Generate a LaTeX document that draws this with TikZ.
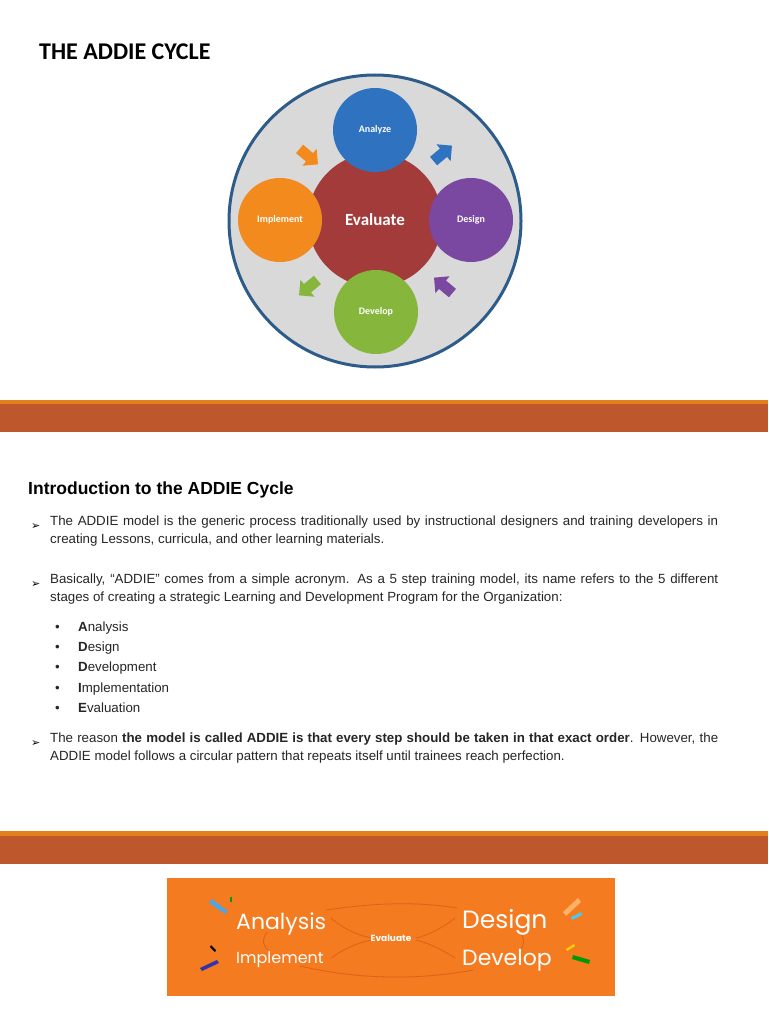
\documentclass[tikz,border=0pt]{standalone}
\usepackage{fontspec}
\setmainfont{Liberation Sans}
\newfontfamily\calib{Carlito}
\newfontfamily\popp{Poppins}
\newfontfamily\dejav{DejaVu Sans}
\definecolor{rust}{HTML}{BE582C}
\definecolor{bandor}{HTML}{E3801E}
\definecolor{banor}{HTML}{F47B20}
\definecolor{curv}{HTML}{E0601A}
\definecolor{ringc}{HTML}{2E5C8A}
\definecolor{evred}{HTML}{A33B3A}
\definecolor{anblue}{HTML}{2F72C0}
\definecolor{depurp}{HTML}{7A48A0}
\definecolor{dvgreen}{HTML}{86B63C}
\definecolor{imor}{HTML}{F28A1E}
\tikzset{
 phase/.style={circle,minimum size=84pt,inner sep=0pt,text=white,font=\calib\bfseries\fontsize{10}{12}\selectfont},
 para/.style={anchor=north west,text width=668pt,align=justify,inner sep=0pt,font=\fontsize{13.3}{18}\selectfont,text=black!85},
 arrowmark/.style={anchor=base west,inner sep=0pt,font=\dejav\fontsize{11}{13}\selectfont},
 bl/.style={anchor=base west,inner sep=0pt,font=\fontsize{13.3}{18}\selectfont,text=black!85},
 bantext/.style={anchor=base west,inner sep=0pt,text=white,font=\popp},
 blockarrow/.pic={\fill[#1] (-11,-5.5)--(2,-5.5)--(2,-11)--(13,0)--(2,11)--(2,5.5)--(-11,5.5)--cycle;}
}
\begin{document}
\begin{tikzpicture}[x=1pt,y=-1pt]
\useasboundingbox[fill=white] (0,0) rectangle (768,1024);
\node[anchor=base west,inner sep=0pt,font=\calib\bfseries\fontsize{24}{28}\selectfont] (title) at (39,60) {THE ADDIE CYCLE};
% cycle diagram
\node[circle,minimum size=292pt,inner sep=0pt,fill=black!15,draw=ringc,line width=3pt] (ring) at (375,221) {};
\node[circle,minimum size=134pt,inner sep=0pt,fill=evred] (eval) at (375,220) {};
\node[text=white,font=\calib\bfseries\fontsize{17}{20}\selectfont] (evtxt) at (eval) {Evaluate};
\node[phase,fill=anblue] (an) at (375,130) {Analyze};
\node[phase,fill=depurp] (de) at (471,220) {Design};
\node[phase,fill=dvgreen] (dv) at (376,312) {Develop};
\node[phase,fill=imor] (im) at (280,220) {Implement};
\pic[rotate=-40] at (308,156) {blockarrow=imor};
\pic[rotate=40] at (442,154) {blockarrow=anblue};
\pic[rotate=140] at (444,286) {blockarrow=depurp};
\pic[rotate=-140] at (309,287) {blockarrow=dvgreen};
% bands
\fill[bandor] (0,400) rectangle (768,404);
\fill[rust] (0,404) rectangle (768,432);
\fill[bandor] (0,831) rectangle (768,836);
\fill[rust] (0,836) rectangle (768,864);
% text
\node[anchor=base west,inner sep=0pt,font=\bfseries\fontsize{17.5}{20}\selectfont] (intro) at (28,494) {Introduction to the ADDIE Cycle};
\node[arrowmark] (m1) at (31,529) {➢};
\node[para] (p1) at (50,516) {The ADDIE model is the generic process traditionally used by instructional designers and training developers in creating Lessons, curricula, and other learning materials.};
\node[arrowmark] (m2) at (31,587) {➢};
\node[para] (p2) at (50,574) {Basically, “ADDIE” comes from a simple acronym. As a 5 step training model, its name refers to the 5 different stages of creating a strategic Learning and Development Program for the Organization:};
\foreach \t/\r [count=\i] in {A/nalysis,D/esign,D/evelopment,I/mplementation,E/valuation}{
  \node[bl] (b\i) at (55,{611+20.3*\i}) {\textbullet};
  \node[bl] (w\i) at (78,{611+20.3*\i}) {\textbf{\t}\r};
}
\node[arrowmark] (m3) at (31,746) {➢};
\node[para] (p3) at (50,733) {The reason \textbf{the model is called ADDIE is that every step should be taken in that exact order}. However, the ADDIE model follows a circular pattern that repeats itself until trainees reach perfection.};
% banner
\fill[banor] (167,878) rectangle (615,996);
\draw[curv,line width=0.8pt] (326,910) .. controls (380,902) and (420,902) .. (457,908);
\draw[curv,line width=0.8pt] (331,918) .. controls (345,930) and (360,936) .. (372,938);
\draw[curv,line width=0.8pt] (331,958) .. controls (345,948) and (360,942) .. (372,940);
\draw[curv,line width=0.8pt] (455,918) .. controls (440,930) and (425,936) .. (416,938);
\draw[curv,line width=0.8pt] (455,958) .. controls (440,948) and (425,942) .. (416,940);
\draw[curv,line width=0.8pt] (267,932) .. controls (262,940) and (262,944) .. (268,950);
\draw[curv,line width=0.8pt] (520,932) .. controls (525,940) and (525,944) .. (520,950);
\draw[curv,line width=0.8pt] (300,966) .. controls (360,980) and (420,980) .. (473,970);
\node[bantext,font=\popp\fontsize{22}{24}\selectfont] (ta) at (236,929) {Analysis};
\node[bantext,font=\popp\fontsize{25}{28}\selectfont] (td) at (462,928) {Design};
\node[bantext,font=\popp\fontsize{16}{18}\selectfont] (ti) at (236,963) {Implement};
\node[bantext,font=\popp\fontsize{22}{24}\selectfont] (tv) at (462,965) {Develop};
\node[text=white,inner sep=0pt,font=\popp\bfseries\fontsize{9}{10}\selectfont] (te) at (391,938) {Evaluate};
% confetti
\fill[cyan!70!blue!70] (209,903) -- (212,899) -- (228,911) -- (225,914) -- cycle;
\fill[green!60!black] (230,897) rectangle (232,902);
\fill[black] (210,947) -- (211,945) -- (216,950) -- (215,952) -- cycle;
\fill[blue!60!black!80] (202,971) -- (200,968) -- (217,960) -- (219,963) -- cycle;
\fill[orange!60!white] (563,912) -- (566,916) -- (581,902) -- (578,898) -- cycle;
\fill[cyan!70] (571,917) -- (572,920) -- (582,915) -- (581,912) -- cycle;
\fill[yellow!70!orange] (566,949) -- (567,951) -- (575,946) -- (574,944) -- cycle;
\fill[green!60!black] (573,955) -- (572,959) -- (589,964) -- (590,960) -- cycle;
\end{tikzpicture}
\end{document}
